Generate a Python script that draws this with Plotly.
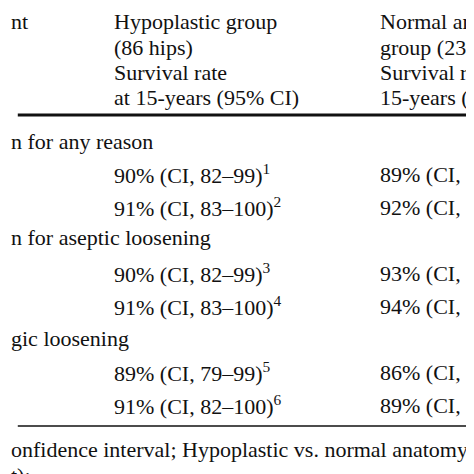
import plotly.graph_objects as go

header_left = ["nt"]
header_hypo = ["Hypoplastic group", "(86 hips)", "Survival rate", "at 15-years (95% CI)"]
header_norm = ["Normal ana", "group (231", "Survival ra", "15-years (9"]
section_labels = ["n for any reason", "n for aseptic loosening", "gic loosening"]
hypo_values = ["90% (CI, 82–99)<sup>1</sup>", "91% (CI, 83–100)<sup>2</sup>",
               "90% (CI, 82–99)<sup>3</sup>", "91% (CI, 83–100)<sup>4</sup>",
               "89% (CI, 79–99)<sup>5</sup>", "91% (CI, 82–100)<sup>6</sup>"]
norm_values = ["89% (CI, 8", "92% (CI, 8", "93% (CI, 8", "94% (CI, 9", "86% (CI, 8", "89% (CI, 8"]
footnotes = ["onfidence interval; Hypoplastic vs. normal anatomy gro", "t):"]

W = H = 474
FONT = dict(family="Liberation Serif, Times New Roman, serif", size=22, color="#111")
fig = go.Figure()
ann = []
def add(x, y, t):
    ann.append(dict(x=x, y=y, xref="x", yref="y", text=t, showarrow=False,
                    xanchor="left", yanchor="middle", font=FONT))

header_y = [13, 39, 64, 89]
add(-9, header_y[0], header_left[0])
for y, a, b in zip(header_y, header_hypo, header_norm):
    add(96, y, a)
    add(368, y, b)

section_y = [133, 229, 330]
value_y = [[166, 199], [265, 298], [364, 397]]
for i, lab in enumerate(section_labels):
    add(-9, section_y[i], lab)
    for j, y in enumerate(value_y[i]):
        add(96, y, hypo_values[2 * i + j])
        add(368, y, norm_values[2 * i + j])

for y, t in zip([441, 467], footnotes):
    add(-9, y, t)

fig.add_shape(type="line", x0=0, x1=W, y0=107, y1=107, line=dict(color="#111", width=3))
fig.add_shape(type="line", x0=0, x1=W, y0=418, y1=418, line=dict(color="#111", width=1.5))

fig.update_layout(width=W, height=H, margin=dict(l=0, r=0, t=0, b=0),
                  paper_bgcolor="white", plot_bgcolor="white", annotations=ann,
                  xaxis=dict(range=[-10, W], visible=False, fixedrange=True),
                  yaxis=dict(range=[H, 0], visible=False, fixedrange=True),
                  showlegend=False)
fig.write_html("out.html")
